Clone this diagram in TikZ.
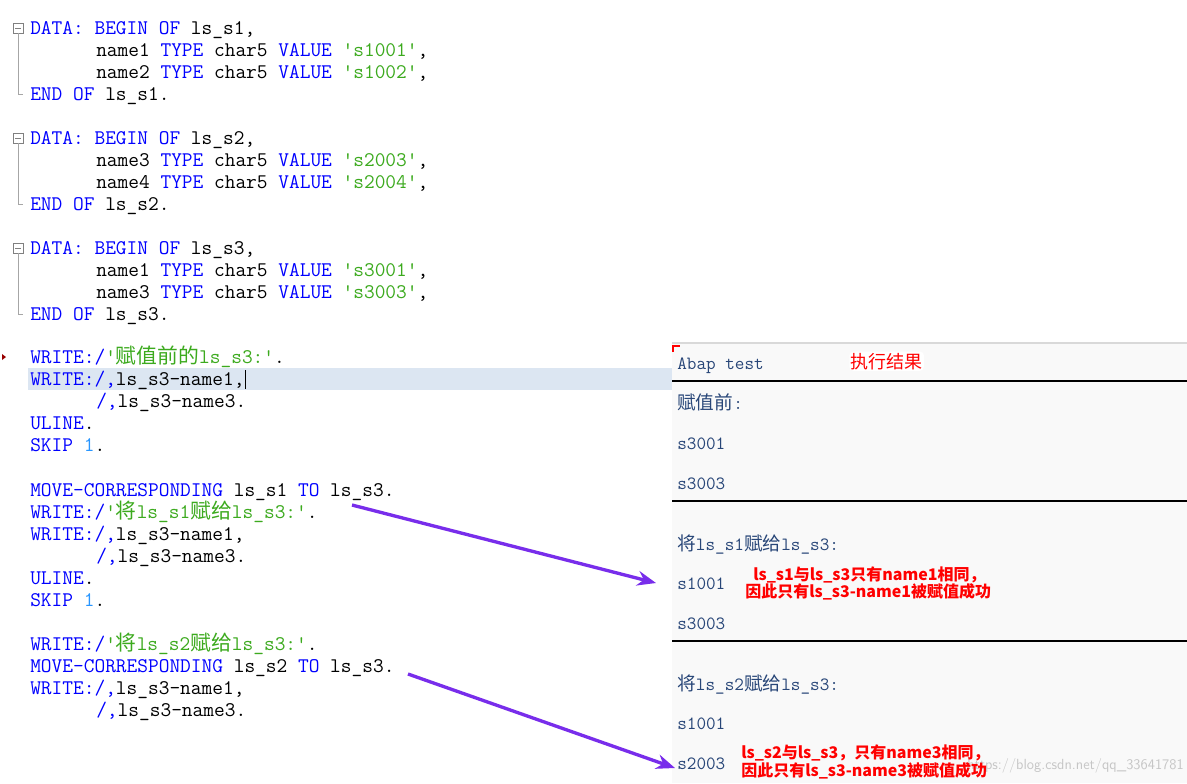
\documentclass[tikz,border=0pt]{standalone}
\usepackage{fontspec}
\setmainfont{Liberation Serif}
\newfontfamily\cjk{Noto Sans CJK SC}
\newfontfamily\cjkb{Noto Sans CJK SC Bold}
\usetikzlibrary{arrows.meta}
\definecolor{kwc}{RGB}{0,0,255}
\definecolor{stc}{RGB}{60,170,30}
\definecolor{nmc}{RGB}{40,150,255}
\definecolor{outc}{RGB}{40,70,120}
\definecolor{arrc}{RGB}{120,45,235}
\definecolor{hlc}{RGB}{220,230,242}
\newcommand{\kw}[1]{\textcolor{kwc}{#1}}
\newcommand{\st}[1]{\textcolor{stc}{#1}}
\newcommand{\nm}[1]{\textcolor{nmc}{#1}}
\newcommand{\zh}[1]{{\cjk #1}}
\begin{document}
\begin{tikzpicture}[x=0.75pt,y=-0.75pt,
  code/.style={anchor=base west,inner sep=0pt,font=\fontsize{15.6}{18}\selectfont\ttfamily},
  outt/.style={anchor=base west,inner sep=0pt,text=outc,font=\fontsize{14}{16}\selectfont\ttfamily},
  note/.style={anchor=base west,inner sep=0pt,text=red,font=\fontsize{12}{14}\selectfont\cjkb\bfseries},
  rule/.style={line width=1pt,black},
  arr/.style={draw=arrc,line width=2.5pt,-{Stealth[length=14pt,width=11pt]}}]
\useasboundingbox (0,0) rectangle (1187,783);
\fill[white] (0,0) rectangle (1187,783);
% highlight line
\fill[hlc] (28,368) rectangle (672,390);
% fold gutters
\foreach \y/\e in {28/94,138/204,248/314}{
  \draw[gray,line width=0.5pt] (13,\y-5) rectangle (23,\y+5);
  \draw[gray,line width=0.5pt] (15,\y) -- (21,\y);
  \draw[gray!70,line width=0.5pt] (18,\y+5) -- (18,\e) -- (23,\e);
}
\fill[red!60!black] (2,354) -- (6,357) -- (2,360) -- cycle;
% code lines
\node[code] (c1) at (30,34) {\kw{DATA: BEGIN OF} ls\_s1,};
\node[code] (c2) at (96,56) {name1 \kw{TYPE} char5 \kw{VALUE} \st{'s1001'},};
\node[code] (c3) at (96,78) {name2 \kw{TYPE} char5 \kw{VALUE} \st{'s1002'},};
\node[code] (c4) at (30,100) {\kw{END OF} ls\_s1.};
\node[code] (c5) at (30,144) {\kw{DATA: BEGIN OF} ls\_s2,};
\node[code] (c6) at (96,166) {name3 \kw{TYPE} char5 \kw{VALUE} \st{'s2003'},};
\node[code] (c7) at (96,188) {name4 \kw{TYPE} char5 \kw{VALUE} \st{'s2004'},};
\node[code] (c8) at (30,210) {\kw{END OF} ls\_s2.};
\node[code] (c9) at (30,254) {\kw{DATA: BEGIN OF} ls\_s3,};
\node[code] (c10) at (96,276) {name1 \kw{TYPE} char5 \kw{VALUE} \st{'s3001'},};
\node[code] (c11) at (96,298) {name3 \kw{TYPE} char5 \kw{VALUE} \st{'s3003'},};
\node[code] (c12) at (30,320) {\kw{END OF} ls\_s3.};
\node[code] (c13) at (30,363) {\kw{WRITE:/}\st{'\zh{赋值前的}ls\_s3:'}.};
\node[code] (c14) at (30,385) {\kw{WRITE:/,}ls\_s3-name1,\rule[-3pt]{1.2pt}{14pt}};
\node[code] (c15) at (96,407) {\kw{/,}ls\_s3-name3.};
\node[code] (c16) at (30,429) {\kw{ULINE}.};
\node[code] (c17) at (30,451) {\kw{SKIP} \nm{1}.};
\node[code] (c18) at (30,496) {\kw{MOVE-CORRESPONDING} ls\_s1 \kw{TO} ls\_s3.};
\node[code] (c19) at (30,518) {\kw{WRITE:/}\st{'\zh{将}ls\_s1\zh{赋给}ls\_s3:'}.};
\node[code] (c20) at (30,540) {\kw{WRITE:/,}ls\_s3-name1,};
\node[code] (c21) at (96,562) {\kw{/,}ls\_s3-name3.};
\node[code] (c22) at (30,584) {\kw{ULINE}.};
\node[code] (c23) at (30,606) {\kw{SKIP} \nm{1}.};
\node[code] (c24) at (30,650) {\kw{WRITE:/}\st{'\zh{将}ls\_s2\zh{赋给}ls\_s3:'}.};
\node[code] (c25) at (30,672) {\kw{MOVE-CORRESPONDING} ls\_s2 \kw{TO} ls\_s3.};
\node[code] (c26) at (30,694) {\kw{WRITE:/,}ls\_s3-name1,};
\node[code] (c27) at (96,716) {\kw{/,}ls\_s3-name3.};
% output panel
\fill[gray!5] (672,343) rectangle (1187,783);
\draw[gray!30,line width=1pt] (672,343) -- (1187,343);
\draw[red,line width=0.8pt] (673,352) -- (673,346) -- (680,346);
\node[outt] (o0) at (677,369) {Abap test};
\node[anchor=base west,inner sep=1pt,text=red,font=\fontsize{13.5}{15}\selectfont\cjk,
  fill=white,rounded corners=3pt] (res) at (849,368) {执行结果};
\draw[rule] (672,381) -- (1187,381);
\node[outt] (o1) at (677,409) {\zh{赋值前}:};
\node[outt] (o2) at (677,449) {s3001};
\node[outt] (o3) at (677,489) {s3003};
\draw[rule] (672,501) -- (1187,501);
\node[outt] (o4) at (677,550) {\zh{将}ls\_s1\zh{赋给}ls\_s3:};
\node[outt] (o5) at (677,589) {s1001};
\node[outt] (o6) at (677,629) {s3003};
\draw[rule] (672,641) -- (1187,641);
\node[outt] (o7) at (677,690) {\zh{将}ls\_s2\zh{赋给}ls\_s3:};
\node[outt] (o8) at (677,729) {s1001};
\node[outt] (o9) at (677,769) {s2003};
\node[anchor=base east,inner sep=0pt,text=gray!45,font=\fontsize{11}{13}\selectfont\sffamily] (wm) at (1184,769) {https://blog.csdn.net/qq\_33641781};
\node[note] (n1) at (753,580) {ls\_s1与ls\_s3只有name1相同，};
\node[note] (n2) at (745,597) {因此只有ls\_s3-name1被赋值成功};
\node[note] (n3) at (741,758) {ls\_s2与ls\_s3，只有name3相同，};
\node[note] (n4) at (741,776) {因此只有ls\_s3-name3被赋值成功};
% arrows
\coordinate (a1) at (352,505);
\coordinate (b1) at (656,583);
\coordinate (a2) at (408,674);
\coordinate (b2) at (675,768);
\draw[arr] (a1) -- (b1);
\draw[arr] (a2) -- (b2);
\end{tikzpicture}
\end{document}
